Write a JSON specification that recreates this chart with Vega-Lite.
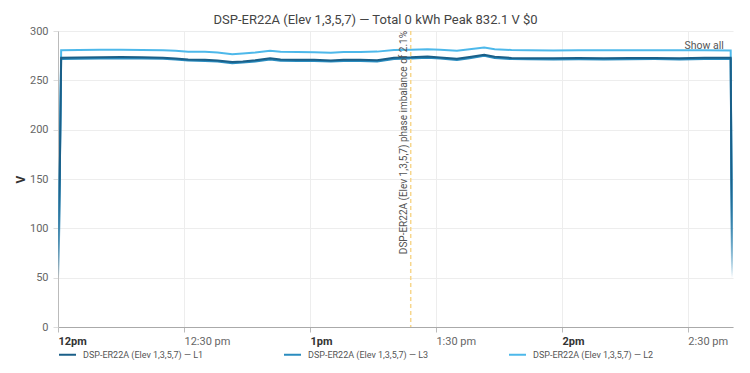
{
  "$schema": "https://vega.github.io/schema/vega-lite/v6.json",
  "width": 675,
  "height": 296,
  "autosize": {"type": "none"},
  "padding": {"left": 58, "top": 31, "right": 17, "bottom": 46},
  "title": {"text": "DSP-ER22A (Elev 1,3,5,7) — Total 0 kWh Peak 832.1 V $0", "font": "Roboto", "fontSize": 13, "fontWeight": "normal", "color": "#444", "offset": 3, "dx": -20, "dy": 5},
  "config": {
    "view": {"stroke": null},
    "font": "Roboto"
  },
  "datasets": {
    "volts": [
      {"t": "2024-01-15T12:00:00", "L1": 0, "L3": 0, "L2": 0},
      {"t": "2024-01-15T12:00:45", "L1": 272.8, "L3": 271.6, "L2": 280.5},
      {"t": "2024-01-15T12:05:00", "L1": 273.1, "L3": 271.9, "L2": 280.7},
      {"t": "2024-01-15T12:10:00", "L1": 273.5, "L3": 272.2, "L2": 280.9},
      {"t": "2024-01-15T12:15:00", "L1": 273.6, "L3": 272.4, "L2": 280.9},
      {"t": "2024-01-15T12:20:00", "L1": 273.3, "L3": 272.1, "L2": 280.7},
      {"t": "2024-01-15T12:25:00", "L1": 273.0, "L3": 271.8, "L2": 280.5},
      {"t": "2024-01-15T12:28:00", "L1": 272.2, "L3": 271.0, "L2": 280.0},
      {"t": "2024-01-15T12:31:00", "L1": 271.2, "L3": 270.0, "L2": 279.0},
      {"t": "2024-01-15T12:35:00", "L1": 270.9, "L3": 269.7, "L2": 278.9},
      {"t": "2024-01-15T12:38:00", "L1": 270.2, "L3": 269.0, "L2": 278.2},
      {"t": "2024-01-15T12:41:30", "L1": 268.6, "L3": 267.4, "L2": 276.4},
      {"t": "2024-01-15T12:44:00", "L1": 269.2, "L3": 268.0, "L2": 277.2},
      {"t": "2024-01-15T12:47:00", "L1": 270.4, "L3": 269.2, "L2": 278.2},
      {"t": "2024-01-15T12:50:30", "L1": 272.3, "L3": 271.1, "L2": 280.0},
      {"t": "2024-01-15T12:53:00", "L1": 271.1, "L3": 269.9, "L2": 278.9},
      {"t": "2024-01-15T12:57:00", "L1": 270.9, "L3": 269.7, "L2": 278.7},
      {"t": "2024-01-15T13:01:00", "L1": 270.8, "L3": 269.6, "L2": 278.5},
      {"t": "2024-01-15T13:05:00", "L1": 270.2, "L3": 269.0, "L2": 277.9},
      {"t": "2024-01-15T13:08:00", "L1": 270.9, "L3": 269.7, "L2": 278.6},
      {"t": "2024-01-15T13:12:00", "L1": 270.8, "L3": 269.6, "L2": 278.8},
      {"t": "2024-01-15T13:16:00", "L1": 270.3, "L3": 269.1, "L2": 279.1},
      {"t": "2024-01-15T13:20:00", "L1": 272.8, "L3": 271.6, "L2": 280.7},
      {"t": "2024-01-15T13:24:00", "L1": 273.3, "L3": 272.1, "L2": 281.0},
      {"t": "2024-01-15T13:28:00", "L1": 274.2, "L3": 273.0, "L2": 281.4},
      {"t": "2024-01-15T13:31:00", "L1": 273.2, "L3": 272.0, "L2": 281.0},
      {"t": "2024-01-15T13:35:00", "L1": 271.8, "L3": 270.6, "L2": 280.1},
      {"t": "2024-01-15T13:38:00", "L1": 273.6, "L3": 272.4, "L2": 281.6},
      {"t": "2024-01-15T13:41:30", "L1": 276.0, "L3": 274.8, "L2": 283.2},
      {"t": "2024-01-15T13:44:00", "L1": 273.9, "L3": 272.7, "L2": 281.6},
      {"t": "2024-01-15T13:48:00", "L1": 272.7, "L3": 271.5, "L2": 280.7},
      {"t": "2024-01-15T13:52:00", "L1": 272.5, "L3": 271.3, "L2": 280.4},
      {"t": "2024-01-15T13:58:00", "L1": 272.4, "L3": 271.2, "L2": 280.3},
      {"t": "2024-01-15T14:04:00", "L1": 272.6, "L3": 271.4, "L2": 280.6},
      {"t": "2024-01-15T14:10:00", "L1": 272.3, "L3": 271.1, "L2": 280.4},
      {"t": "2024-01-15T14:16:00", "L1": 272.6, "L3": 271.4, "L2": 280.5},
      {"t": "2024-01-15T14:22:00", "L1": 272.7, "L3": 271.5, "L2": 280.6},
      {"t": "2024-01-15T14:28:00", "L1": 272.4, "L3": 271.2, "L2": 280.4},
      {"t": "2024-01-15T14:34:00", "L1": 272.8, "L3": 271.6, "L2": 280.6},
      {"t": "2024-01-15T14:40:12", "L1": 272.9, "L3": 271.7, "L2": 280.2},
      {"t": "2024-01-15T14:40:36", "L1": 0, "L3": 0, "L2": 0}
    ],
    "marker": [
      {"t": "2024-01-15T13:24:00", "v": 300, "label": "DSP-ER22A (Elev 1,3,5,7) phase imbalance of 2.1%"}
    ],
    "button": [
      {"t": "2024-01-15T14:38:35", "v": 285, "label": "Show all"}
    ]
  },
  "layer": [
    {
      "data": {"name": "volts"},
      "mark": {"type": "line", "strokeWidth": 2, "clip": true,
        "stroke": {"gradient": "linear", "x1": 0, "y1": 0, "x2": 0, "y2": 1, "stops": [
          {"offset": 0, "color": "#4db8ea"}, {"offset": 0.45, "color": "#4db8ea"}, {"offset": 0.82, "color": "rgba(77,184,234,0)"}, {"offset": 1, "color": "rgba(77,184,234,0)"}]}},
      "encoding": {
        "x": {
          "field": "t",
          "type": "temporal",
          "scale": {"domain": [{"year": 2024, "month": 1, "date": 15, "hours": 12, "minutes": 0}, {"year": 2024, "month": 1, "date": 15, "hours": 14, "minutes": 40, "seconds": 45}], "nice": false},
          "axis": {
            "title": null,
            "values": [
              {"year": 2024, "month": 1, "date": 15, "hours": 12, "minutes": 0},
              {"year": 2024, "month": 1, "date": 15, "hours": 12, "minutes": 30},
              {"year": 2024, "month": 1, "date": 15, "hours": 13, "minutes": 0},
              {"year": 2024, "month": 1, "date": 15, "hours": 13, "minutes": 30},
              {"year": 2024, "month": 1, "date": 15, "hours": 14, "minutes": 0},
              {"year": 2024, "month": 1, "date": 15, "hours": 14, "minutes": 30}
            ],
            "grid": true,
            "gridColor": "#ededed",
            "domainColor": "#aaa",
            "tickColor": "#bbb",
            "tickSize": 5,
            "labelAlign": "left",
            "labelPadding": 3,
            "labelFontSize": 11,
            "labelColor": {"condition": {"test": "minutes(datum.value) == 0", "value": "#333"}, "value": "#666"},
            "labelFontWeight": {"condition": {"test": "minutes(datum.value) == 0", "value": "bold"}, "value": "normal"},
            "labelExpr": "minutes(datum.value) == 0 ? timeFormat(datum.value, '%-I') + (hours(datum.value) < 12 ? 'am' : 'pm') : timeFormat(datum.value, '%-I:%M') + (hours(datum.value) < 12 ? ' am' : ' pm')"
          }
        },
        "y": {"field": "L2", "type": "quantitative", "scale": {"domain": [0, 300], "nice": false},
          "axis": {"title": "V", "titleFontSize": 12, "titleFontWeight": "bold", "titleColor": "#333", "titlePadding": 2,
            "values": [0, 50, 100, 150, 200, 250, 300], "grid": true, "gridColor": "#ededed", "domainColor": "#bbb",
            "tickColor": "#ddd", "tickSize": 5, "labelPadding": 5, "labelFontSize": 11, "labelColor": "#666"}}
      }
    },
    {
      "data": {"name": "volts"},
      "mark": {"type": "line", "strokeWidth": 2, "clip": true,
        "stroke": {"gradient": "linear", "x1": 0, "y1": 0, "x2": 0, "y2": 1, "stops": [
          {"offset": 0, "color": "#2a8cbf"}, {"offset": 0.45, "color": "#2a8cbf"}, {"offset": 0.82, "color": "rgba(42,140,191,0)"}, {"offset": 1, "color": "rgba(42,140,191,0)"}]}},
      "encoding": {
        "x": {"field": "t", "type": "temporal"},
        "y": {"field": "L3", "type": "quantitative"}
      }
    },
    {
      "data": {"name": "volts"},
      "mark": {"type": "line", "strokeWidth": 2, "clip": true,
        "stroke": {"gradient": "linear", "x1": 0, "y1": 0, "x2": 0, "y2": 1, "stops": [
          {"offset": 0, "color": "#1a5f88"}, {"offset": 0.45, "color": "#1a5f88"}, {"offset": 0.82, "color": "rgba(26,95,136,0)"}, {"offset": 1, "color": "rgba(26,95,136,0)"}]}},
      "encoding": {
        "x": {"field": "t", "type": "temporal"},
        "y": {"field": "L1", "type": "quantitative"}
      }
    },
    {
      "data": {"name": "volts"},
      "transform": [{"fold": ["L1", "L3", "L2"], "as": ["series", "v"]}],
      "mark": {"type": "line", "strokeWidth": 2, "opacity": 0},
      "encoding": {
        "x": {"field": "t", "type": "temporal"},
        "y": {"field": "v", "type": "quantitative"},
        "color": {"field": "series", "type": "nominal",
          "scale": {"domain": ["L1", "L3", "L2"], "range": ["#1a5f88", "#2a8cbf", "#4db8ea"]},
          "legend": {"title": null, "orient": "none", "legendX": 0, "legendY": 314, "direction": "horizontal", "columns": 3,
            "columnPadding": 76, "symbolType": "stroke", "symbolSize": 289, "symbolStrokeWidth": 2, "symbolOpacity": 1,
            "labelOffset": 6, "labelFontSize": 9, "labelColor": "#555", "labelLimit": 300,
            "labelExpr": "'DSP-ER22A (Elev 1,3,5,7) — ' + datum.label"}}
      }
    },
    {
      "data": {"name": "marker"},
      "mark": {"type": "rule", "color": "#f7d68c", "strokeDash": [4, 3], "strokeWidth": 1.5},
      "encoding": {"x": {"field": "t", "type": "temporal"}}
    },
    {
      "data": {"name": "marker"},
      "mark": {"type": "text", "angle": 270, "align": "right", "baseline": "bottom", "dy": -2, "fontSize": 10, "color": "#555"},
      "encoding": {
        "x": {"field": "t", "type": "temporal"},
        "y": {"field": "v", "type": "quantitative"},
        "text": {"field": "label"}
      }
    },
    {
      "data": {"name": "button"},
      "mark": {"type": "text", "align": "right", "baseline": "middle", "fontSize": 10.5, "color": "#555"},
      "encoding": {
        "x": {"field": "t", "type": "temporal"},
        "y": {"field": "v", "type": "quantitative"},
        "text": {"field": "label"}
      }
    }
  ]
}
